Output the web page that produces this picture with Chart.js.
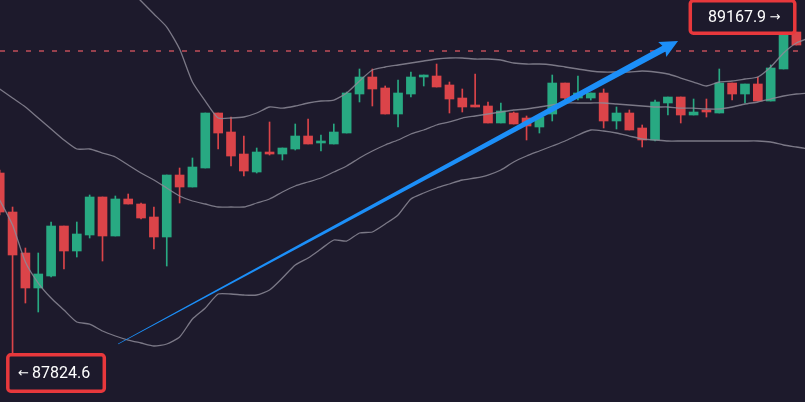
<!DOCTYPE html>
<html>
<head>
<meta charset="utf-8">
<script src="https://cdn.jsdelivr.net/npm/chart.js@4.4.1/dist/chart.umd.min.js"></script>
<style>
  html, body { margin: 0; padding: 0; background: #1d1a2c; }
  #wrap { width: 805px; height: 402px; }
</style>
</head>
<body>
<div id="wrap"><canvas id="candles" width="805" height="402"></canvas></div>
<script>
// OHLC per candle (index = candle number)
var opens = [88583.5, 88435.5, 88280.0, 88147.2, 88192.7, 88382.4, 88287.6, 88348.3, 88492.5, 88344.5, 88484.9, 88465.9, 88416.6, 88340.7, 88575.9, 88530.4, 88602.5, 88811.2, 88739.1, 88655.6, 88587.3, 88663.2, 88655.6, 88674.6, 88723.9, 88697.4, 88693.6, 88735.3, 88883.3, 88947.8, 88906.1, 88807.4, 88883.3, 88947.8, 88951.6, 88917.5, 88868.1, 88841.6, 88837.8, 88773.3, 88811.2, 88792.2, 88758.1, 88807.4, 88925.0, 88868.1, 88868.1, 88887.1, 88780.9, 88811.2, 88754.3, 88708.8, 88849.2, 88871.9, 88803.6, 88822.6, 88811.2, 88925.0, 88883.3, 88921.3, 88856.7, 88978.2, 89118.6];
var closes = [88435.5, 88272.4, 88147.2, 88200.3, 88382.4, 88287.6, 88352.1, 88492.5, 88344.5, 88484.9, 88465.9, 88412.8, 88340.7, 88575.9, 88530.4, 88606.3, 88811.2, 88735.3, 88648.0, 88591.1, 88663.2, 88655.6, 88678.4, 88723.9, 88693.6, 88705.0, 88739.1, 88887.1, 88947.8, 88902.3, 88807.4, 88887.1, 88947.8, 88955.4, 88909.9, 88864.3, 88834.0, 88834.0, 88773.3, 88818.8, 88769.5, 88761.9, 88796.0, 88925.0, 88868.1, 88887.1, 88887.1, 88780.9, 88811.2, 88746.7, 88708.8, 88853.0, 88871.9, 88803.6, 88815.0, 88815.0, 88925.0, 88883.3, 88921.3, 88856.7, 88982.0, 89122.4, 89069.2];
var highs = [88594.9, 88454.5, 88298.9, 88280.0, 88397.6, 88382.4, 88397.6, 88500.1, 88492.5, 88496.3, 88503.8, 88469.7, 88454.5, 88575.9, 88602.5, 88640.5, 88811.2, 88811.2, 88796.0, 88723.9, 88678.4, 88777.1, 88678.4, 88769.5, 88788.4, 88727.7, 88769.5, 88890.9, 88978.2, 88978.2, 88913.7, 88936.4, 88966.8, 88955.4, 88997.1, 88928.8, 88902.3, 88959.2, 88853.0, 88849.2, 88815.0, 88799.8, 88803.6, 88955.4, 88925.0, 88951.6, 88887.1, 88902.3, 88834.0, 88822.6, 88765.7, 88860.5, 88871.9, 88871.9, 88864.3, 88864.3, 88978.2, 88925.0, 88921.3, 88947.8, 88993.4, 89167.9, 89118.6];
var lows = [88424.2, 87824.6, 88090.2, 88056.1, 88188.9, 88219.3, 88264.8, 88336.9, 88249.6, 88344.5, 88465.9, 88409.0, 88295.1, 88230.6, 88469.7, 88530.4, 88602.5, 88674.6, 88610.1, 88572.2, 88583.5, 88651.8, 88632.9, 88670.8, 88693.6, 88667.0, 88693.6, 88735.3, 88853.0, 88837.8, 88807.4, 88758.1, 88871.9, 88913.7, 88909.9, 88811.2, 88815.0, 88834.0, 88773.3, 88773.3, 88769.5, 88708.8, 88735.3, 88780.9, 88860.5, 88860.5, 88860.5, 88754.3, 88750.5, 88746.7, 88682.2, 88705.0, 88803.6, 88773.3, 88803.6, 88796.0, 88811.2, 88860.5, 88849.2, 88856.7, 88856.7, 88978.2, 89069.2];

// Bollinger bands (one extra point past the last candle)
var upperBand = [89581.5, 89573.9, 89562.5, 89543.6, 89520.8, 89490.4, 89456.3, 89418.3, 89376.6, 89331.1, 89285.5, 89236.2, 89186.9, 89137.5, 89054.1, 88928.8, 88856.7, 88792.2, 88792.2, 88796.0, 88811.2, 88834.0, 88829.8, 88837.8, 88849.2, 88856.7, 88860.5, 88887.1, 88932.6, 88974.4, 88985.8, 88993.4, 89000.9, 89008.5, 89016.1, 89019.9, 89019.9, 89016.1, 89016.1, 89012.3, 89000.9, 88997.1, 88997.1, 88993.4, 88985.8, 88978.2, 88970.6, 88966.8, 88966.8, 88966.8, 88970.6, 88966.8, 88959.2, 88944.0, 88928.8, 88913.7, 88928.8, 88932.6, 88940.2, 88947.8, 88985.8, 89038.9, 89076.8, 89095.8];
var middleBand = [88902.3, 88868.1, 88834.0, 88792.2, 88750.5, 88708.8, 88674.6, 88674.6, 88659.4, 88644.3, 88613.9, 88583.5, 88557.0, 88526.6, 88496.3, 88477.3, 88465.9, 88454.5, 88454.5, 88454.5, 88469.7, 88484.9, 88511.4, 88534.2, 88549.4, 88564.6, 88587.3, 88610.1, 88640.5, 88667.0, 88689.8, 88708.8, 88731.5, 88746.7, 88765.7, 88777.1, 88792.2, 88799.8, 88807.4, 88815.0, 88822.6, 88826.4, 88834.0, 88841.6, 88849.2, 88849.2, 88849.2, 88849.2, 88845.4, 88841.6, 88837.8, 88834.0, 88834.0, 88829.8, 88829.8, 88826.4, 88826.4, 88834.0, 88845.4, 88853.0, 88864.3, 88875.7, 88883.3, 88887.1];
var lowerBand = [88481.1, 88386.2, 88245.8, 88166.1, 88109.2, 88063.7, 88018.1, 88010.5, 87984.0, 87965.0, 87949.8, 87938.5, 87927.1, 87934.7, 87961.2, 88029.5, 88071.3, 88124.4, 88124.4, 88120.6, 88120.6, 88139.6, 88185.1, 88234.4, 88261.0, 88295.1, 88329.3, 88325.5, 88355.9, 88359.7, 88390.0, 88424.2, 88484.9, 88507.6, 88526.6, 88541.8, 88557.0, 88564.6, 88575.9, 88594.9, 88625.3, 88648.0, 88667.0, 88686.0, 88705.0, 88727.7, 88746.7, 88742.9, 88735.3, 88723.9, 88712.6, 88708.8, 88705.0, 88705.0, 88705.0, 88705.0, 88705.0, 88705.0, 88705.0, 88705.0, 88701.2, 88689.8, 88682.2, 88674.6];

var dashLevel = 89046.5;
var arrowFrom = [9.21, 87934.7];   // [candle index, price]
var arrowTo = [52.79, 89084.4];

var xMin = 0.023, xMax = 62.67;
var yMin = 87714.6, yMax = 89240.0;

var GREEN = '#28a982', RED = '#db4449', BAND = 'rgba(140,138,150,0.85)';

var colors = opens.map(function(o, i) { return closes[i] >= o ? GREEN : RED; });
var wicks = opens.map(function(o, i) { return { x: i, y: [lows[i], highs[i]] }; });
var bodies = opens.map(function(o, i) { return { x: i, y: [o, closes[i]] }; });
function band(arr) { return arr.map(function(v, i) { return { x: i, y: v }; }); }

var lowIdx = lows.indexOf(Math.min.apply(null, lows));
var highIdx = highs.indexOf(Math.max.apply(null, highs));

function tag(ctx, left, top, w, h) {
    ctx.save();
    ctx.lineWidth = 3.5;
    ctx.strokeStyle = '#e8383c';
    ctx.fillStyle = '#1d1a2c';
    ctx.beginPath();
    ctx.roundRect(left + 1.75, top + 1.75, w - 3.5, h - 3.5, 3);
    ctx.fill();
    ctx.stroke();
    ctx.restore();
}

var overlay = {
    id: 'overlay',
    afterDatasetsDraw: function(chart) {
        var ctx = chart.ctx, xs = chart.scales.x, ys = chart.scales.y;

        // tapered arrow
        var x0 = xs.getPixelForValue(arrowFrom[0]), y0 = ys.getPixelForValue(arrowFrom[1]);
        var x1 = xs.getPixelForValue(arrowTo[0]), y1 = ys.getPixelForValue(arrowTo[1]);
        var len = Math.hypot(x1 - x0, y1 - y0), head = 18;
        ctx.save();
        ctx.translate(x0, y0);
        ctx.rotate(Math.atan2(y1 - y0, x1 - x0));
        ctx.beginPath();
        ctx.moveTo(0, -0.4);
        ctx.lineTo(len - head + 2, -3.3);
        ctx.lineTo(len - head, -8.5);
        ctx.lineTo(len, 0);
        ctx.lineTo(len - head, 8.5);
        ctx.lineTo(len - head + 2, 3.3);
        ctx.lineTo(0, 0.4);
        ctx.closePath();
        ctx.fillStyle = '#1c8ff8';
        ctx.fill();
        ctx.restore();

        // low / high tags
        ctx.save();
        ctx.fillStyle = '#ffffff';
        ctx.textBaseline = 'middle';
        var lx = xs.getPixelForValue(lowIdx), ly = ys.getPixelForValue(lows[lowIdx]);
        tag(ctx, lx - 6.5, ly - 20, 100, 40);
        ctx.font = '13px "DejaVu Sans"';
        ctx.fillText('\u2190', lx + 5.5, ly + 1);
        ctx.font = '16px Roboto';
        ctx.fillText(lows[lowIdx].toFixed(1), lx + 19.5, ly + 1);

        var hx = xs.getPixelForValue(highIdx), hy = ys.getPixelForValue(highs[highIdx]);
        tag(ctx, hx - 95, hy - 20, 108, 36);
        ctx.font = '16px Roboto';
        ctx.fillText(highs[highIdx].toFixed(1), hx - 75.6, hy - 1);
        ctx.font = '13px "DejaVu Sans"';
        ctx.fillText('\u2192', hx - 14, hy - 1);
        ctx.restore();
    }
};

var chart = new Chart(document.getElementById('candles').getContext('2d'), {
    data: {
        datasets: [
            {
                type: 'line', data: [{ x: xMin, y: dashLevel }, { x: xMax, y: dashLevel }],
                borderColor: 'rgba(200,80,92,0.95)', borderWidth: 1.4, borderDash: [5, 8],
                pointRadius: 0, order: 5
            },
            { type: 'bar', data: wicks, backgroundColor: colors, barThickness: 1, grouped: false, order: 4 },
            { type: 'bar', data: bodies, backgroundColor: colors, barThickness: 9, minBarLength: 2, grouped: false, order: 3 },
            { type: 'line', data: band(upperBand), borderColor: BAND, borderWidth: 1.3, pointRadius: 0, tension: 0.2, order: 1 },
            { type: 'line', data: band(middleBand), borderColor: BAND, borderWidth: 1.3, pointRadius: 0, tension: 0.2, order: 1 },
            { type: 'line', data: band(lowerBand), borderColor: BAND, borderWidth: 1.3, pointRadius: 0, tension: 0.2, order: 1 }
        ]
    },
    options: {
        responsive: false,
        animation: false,
        devicePixelRatio: 1,
        layout: { padding: 0 },
        scales: {
            x: { type: 'linear', min: xMin, max: xMax, offset: false, display: false },
            y: { type: 'linear', min: yMin, max: yMax, display: false }
        },
        plugins: {
            legend: { display: false },
            tooltip: { enabled: false }
        }
    },
    plugins: [overlay]
});
</script>
</body>
</html>
